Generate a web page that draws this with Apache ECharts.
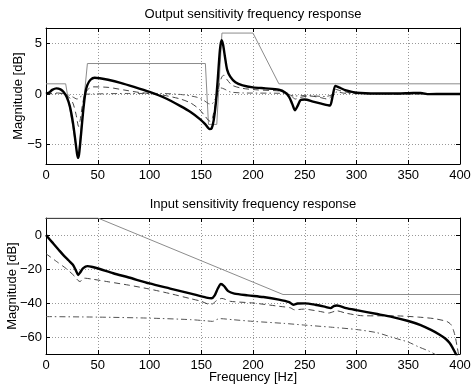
<!DOCTYPE html>
<html>
<head>
<meta charset="utf-8">
<script src="https://cdn.jsdelivr.net/npm/echarts@6/dist/echarts.min.js"></script>
<style>html,body{margin:0;padding:0;background:#fff}#c{width:474px;height:387px}</style>
</head>
<body>
<div id="c"></div>
<script>
// ---------- Tick labels ----------
const xTicks = [0, 50, 100, 150, 200, 250, 300, 350, 400];
const outYTicks = [-5, 0, 5];
const inYTicks = [-60, -40, -20, 0];

// ---------- Data: Output sensitivity (top) ----------
const outBoundF = [0, 19, 31, 40, 154, 157, 165, 170, 200, 225, 400];
const outBoundV = [1, 1, -6.4, 3, 3, -3, -3, 6, 6, 1, 1];

const outSolidF = [0,3,6,10,14,17,20,23,26,28,30,31,32,34,36,38,40,43,47,52,60,72,85,100,115,130,140,149,154,158,160,162,164,166,168,169.5,171,173,175,178,183,190,200,212,225,231,235,238,240.5,243,246,250,258,266,272,274.5,277,279.5,283,290,300,320,340,355,362,370,385,400];
const outSolidV = [0,0.15,0.4,0.55,0.45,0.2,-0.3,-1.2,-2.8,-4.3,-5.9,-6.3,-5.9,-3.8,-1.6,0.1,0.9,1.4,1.6,1.55,1.4,1.1,0.7,0.2,-0.4,-1.2,-1.8,-2.5,-3.0,-3.45,-3.4,-2.6,-1.0,1.5,4.3,5.3,4.9,3.6,2.4,1.7,1.15,0.85,0.65,0.55,0.42,0.15,-0.3,-1.0,-1.6,-1.2,-0.6,-0.55,-0.75,-0.95,-1.1,-1.15,-0.2,0.8,0.65,0.35,0.12,0.05,0.05,0.1,0.1,-0.02,0,0];

const outDashF = [0,10,18,22,26,29,31.5,33,35,37,40,45,60,75,90,100,115,130,140,148,153,157,159,161,164,167,170,172,175,180,190,205,225,233,237,241,245,255,265,272,276,280,285,295,310,400];
const outDashV = [0,0.1,0,-0.3,-0.9,-2.0,-3.2,-2.6,-1.2,-0.2,0.4,0.7,0.65,0.4,0.15,0.05,-0.15,-0.5,-0.9,-1.5,-2.1,-2.6,-2.7,-2.3,-0.8,0.8,1.7,1.85,1.4,0.85,0.55,0.4,0.3,0.1,-0.2,-0.5,-0.35,-0.2,-0.35,-0.5,-0.2,0.45,0.3,0.1,0.02,0];

const outDotF = [0,15,22,26,30,33,37,45,80,110,130,145,152,157,160,163,166,169,172,178,190,230,240,250,270,276,281,290,400];
const outDotV = [0,0.05,-0.1,-0.3,-0.5,-0.3,-0.05,0,0.05,0.05,-0.05,-0.3,-0.6,-0.95,-1.0,-0.6,0.1,0.6,0.5,0.2,0.1,0.05,-0.2,-0.15,-0.25,-0.1,0.2,0.05,0];

// ---------- Data: Input sensitivity (bottom) ----------
const inBoundF = [0, 50, 229, 400];
const inBoundV = [10, 10, -35, -35];

const inSolidF = [0,3,7,12,17,22,26,29,31,33,36,40,45,52,65,80,100,120,140,155,160,163,166,169,172,176,182,195,210,225,235,239,243,250,260,270,275,278,281,290,300,320,335,350,362,372,380,386,390,393,396,398,400];
const inSolidV = [0,-2.2,-5,-8.5,-12,-15,-17.5,-21,-23.5,-22,-19.5,-18.3,-18.8,-20,-22.5,-25,-28.5,-31.5,-34.5,-36.8,-37.2,-35.5,-31.5,-28.8,-30,-33,-34.5,-35.5,-36.5,-38,-39.5,-41,-40.3,-40.2,-41,-42.3,-43,-41.8,-41.5,-43,-44.2,-46.5,-48.3,-50.6,-53,-55.8,-58.5,-61,-63.5,-66.5,-70,-73,-78];

const inDashF = [0,10,20,28,31,33,35,37,45,60,80,100,120,140,150,158,161,165,170,178,200,226,236,240,249,265,273,281,290,306,340,360,375,387,391,393.5,395.5,397,398.5,400];
const inDashV = [-11,-15.5,-20,-24.5,-26.8,-27.4,-26,-25.4,-26,-27.5,-29.5,-31.8,-34.5,-37.5,-39,-40.8,-40.5,-38.5,-37.3,-39,-40,-42,-42.8,-44,-43.6,-45,-45.9,-44.6,-46,-47.5,-47.6,-48.3,-49.2,-50.8,-52.5,-55.7,-60,-65,-70,-78];

const inDotF = [0,50,100,140,155,161,165,168,180,200,230,250,275,300,320,335,350,360,370,377,385];
const inDotV = [-48,-48.3,-48.9,-49.8,-50.5,-50.8,-49.7,-49.2,-49.8,-50.8,-52,-53,-54.2,-55.6,-57.5,-60.3,-63,-65.8,-68.3,-70.5,-73];

const titles = ['Output sensitivity frequency response', 'Input sensitivity frequency response'];
const yName = 'Magnitude [dB]';
const xName = 'Frequency [Hz]';

// ---------- Build chart ----------
const FONT = 'Liberation Sans, Arial, Helvetica, sans-serif';
const pair = (f, v) => f.map((x, i) => [x, v[i]]);
const minus = v => String(v).replace('-', '\u2212');

function xAx(gi, pos, labels, name) {
  return {
    type: 'value', gridIndex: gi, position: pos, min: 0, max: 400,
    axisLine: { show: true, onZero: false, lineStyle: { color: '#000', width: 1 } },
    axisTick: { show: true, inside: true, length: 4, lineStyle: { color: '#000' }, customValues: xTicks },
    axisLabel: { show: labels, fontSize: 13, color: '#000', fontFamily: FONT, margin: 5, customValues: xTicks },
    splitLine: { show: labels, lineStyle: { color: '#999', type: [1, 2], width: 1 } },
    name: name || '', nameLocation: 'middle', nameGap: 17, nameMoveOverlap: false,
    nameTextStyle: { fontSize: 13, color: '#000', fontFamily: FONT }
  };
}
function yAx(gi, pos, labels, min, max, ticks, gap) {
  return {
    type: 'value', gridIndex: gi, position: pos, min: min, max: max,
    axisLine: { show: true, onZero: false, lineStyle: { color: '#000', width: 1 } },
    axisTick: { show: true, inside: true, length: 4, lineStyle: { color: '#000' }, customValues: ticks },
    axisLabel: { show: labels, fontSize: 13, color: '#000', fontFamily: FONT, margin: 4,
      customValues: ticks, formatter: v => minus(v) },
    splitLine: { show: labels, lineStyle: { color: '#999', type: [1, 2], width: 1 } },
    name: labels ? yName : '', nameLocation: 'middle', nameGap: gap, nameRotate: 90, nameMoveOverlap: false,
    nameTextStyle: { fontSize: 13, color: '#000', fontFamily: FONT }
  };
}
function line(data, xi, yi, color, width, type, z, smooth) {
  return {
    type: 'line', data: data, xAxisIndex: xi, yAxisIndex: yi, showSymbol: false, symbol: 'none',
    smooth: smooth, clip: true, z: z,
    lineStyle: { color: color, width: width, type: type }
  };
}

const titleStyle = { fontSize: 13, fontWeight: 'normal', color: '#000', fontFamily: FONT };
const option = {
  animation: false,
  backgroundColor: '#fff',
  title: [
    { text: titles[0], left: 253, textAlign: 'center', top: 3, padding: [5, 0, 5, 0], textStyle: titleStyle },
    { text: titles[1], left: 253, textAlign: 'center', top: 193, padding: [5, 0, 5, 0], textStyle: titleStyle }
  ],
  grid: [
    { left: 46, right: 14, top: 28, height: 136, containLabel: false, outerBoundsMode: 'none' },
    { left: 46, right: 14, top: 218, height: 136, containLabel: false, outerBoundsMode: 'none' }
  ],
  xAxis: [
    xAx(0, 'bottom', true), xAx(0, 'top', false),
    xAx(1, 'bottom', true, xName), xAx(1, 'top', false)
  ],
  yAxis: [
    yAx(0, 'left', true, -6.9, 6.5, outYTicks, 21), yAx(0, 'right', false, -6.9, 6.5, outYTicks, 21),
    yAx(1, 'left', true, -70, 10, inYTicks, 27), yAx(1, 'right', false, -70, 10, inYTicks, 27)
  ],
  series: [
    line(pair(outBoundF, outBoundV), 0, 0, '#8c8c8c', 1, 'solid', 2, false),
    line(pair(outDotF, outDotV), 0, 0, '#555', 1, [6, 3, 1.5, 3], 3, 0.25),
    line(pair(outDashF, outDashV), 0, 0, '#444', 1, [6, 4], 4, 0.25),
    line(pair(outSolidF, outSolidV), 0, 0, '#000', 2.4, 'solid', 5, 0.25),
    line(pair(inBoundF, inBoundV), 2, 2, '#8c8c8c', 1, 'solid', 2, false),
    line(pair(inDotF, inDotV), 2, 2, '#555', 1, [6, 3, 1.5, 3], 3, 0.25),
    line(pair(inDashF, inDashV), 2, 2, '#444', 1, [6, 4], 4, 0.25),
    line(pair(inSolidF, inSolidV), 2, 2, '#000', 2.4, 'solid', 5, 0.25)
  ]
};

const chart = echarts.init(document.getElementById('c'), null, { renderer: 'canvas' });
chart.setOption(option);
</script>
</body>
</html>
